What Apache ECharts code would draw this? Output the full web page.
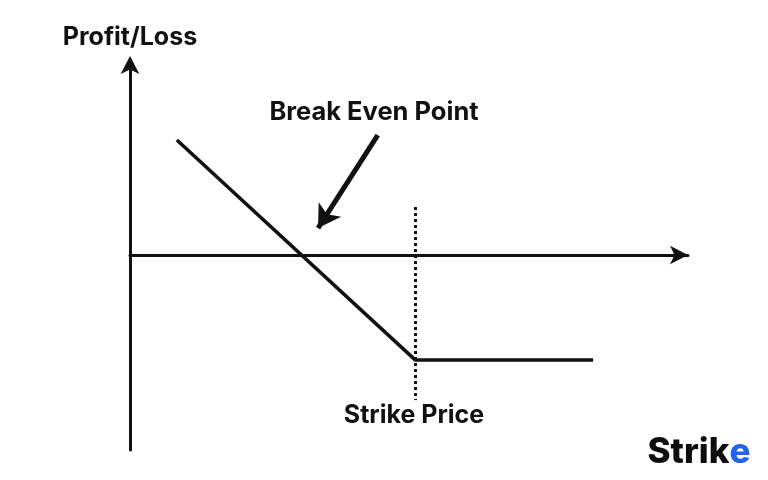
<!DOCTYPE html>
<html>
<head>
<meta charset="utf-8">
<script src="https://cdn.jsdelivr.net/npm/echarts@6/dist/echarts.min.js"></script>
<style>html,body{margin:0;padding:0;background:#fff;}#c{width:768px;height:480px;}</style>
</head>
<body>
<div id="c"></div>
<script>
// Underlying price (x) and profit/loss (y) of the payoff line
const prices = [8.4, 51.1, 83.0];
const payoff = [59.0, -53.8, -53.8];
const strike = 51.1;
const strikeLineRange = [24.6, -74.4];
const arrowFrom = [44.4, 61.5];
const arrowTo = [33.7, 13.8];
const labels = { yName: 'Profit/Loss', breakEven: 'Break Even Point', strike: 'Strike Price' };

const chart = echarts.init(document.getElementById('c'));
const font = 'Inter, "Noto Sans", sans-serif';
chart.setOption({
  backgroundColor: '#ffffff',
  animation: false,
  grid: { left: 130, right: 80, top: 60, bottom: 30 },
  xAxis: {
    type: 'value', min: 0, max: 100,
    axisLine: { onZero: true, symbol: ['none', 'arrow'], symbolSize: [14, 18], symbolOffset: [0, 0], lineStyle: { color: '#111', width: 3 } },
    axisTick: { show: false }, axisLabel: { show: false }, splitLine: { show: false }
  },
  yAxis: {
    type: 'value', min: -100, max: 100,
    name: labels.yName, nameLocation: 'end', nameGap: 10,
    nameTextStyle: { fontFamily: font, fontSize: 25, fontWeight: 700, color: '#111', align: 'center' },
    axisLine: { show: true, symbol: ['none', 'arrow'], symbolSize: [14, 18], symbolOffset: [0, 4], lineStyle: { color: '#111', width: 3 } },
    axisTick: { show: false }, axisLabel: { show: false }, splitLine: { show: false }
  },
  series: [{
    type: 'line',
    data: prices.map((p, i) => [p, payoff[i]]),
    showSymbol: false,
    lineStyle: { color: '#111', width: 3.5 },
    markLine: {
      silent: true,
      animation: false,
      data: [
        [{ coord: [strike, strikeLineRange[0]], symbol: 'none', lineStyle: { type: [3, 3], width: 3, color: '#111' } },
         { coord: [strike, strikeLineRange[1]], symbol: 'none' }],
        [{ coord: arrowFrom, symbol: 'none', lineStyle: { type: 'solid', width: 5, color: '#111' } },
         { coord: arrowTo, symbol: 'arrow', symbolSize: [20, 22] }]
      ],
      label: { show: false }
    }
  }],
  graphic: [
    { type: 'text', x: 374, y: 112, style: { text: labels.breakEven, align: 'center', verticalAlign: 'middle', fontFamily: font, fontSize: 25.5, fontWeight: 700, fill: '#111' } },
    { type: 'text', x: 414, y: 415, style: { text: labels.strike, align: 'center', verticalAlign: 'middle', fontFamily: font, fontSize: 25, fontWeight: 700, fill: '#111' } },
    { type: 'text', x: 699, y: 452, style: {
        text: '{a|Strik}{b|e}', align: 'center', verticalAlign: 'middle',
        rich: {
          a: { fontFamily: font, fontSize: 35, fontWeight: 800, fill: '#0d0d0d' },
          b: { fontFamily: font, fontSize: 35, fontWeight: 800, fill: '#2563eb' }
        }
    } }
  ]
});
</script>
</body>
</html>
